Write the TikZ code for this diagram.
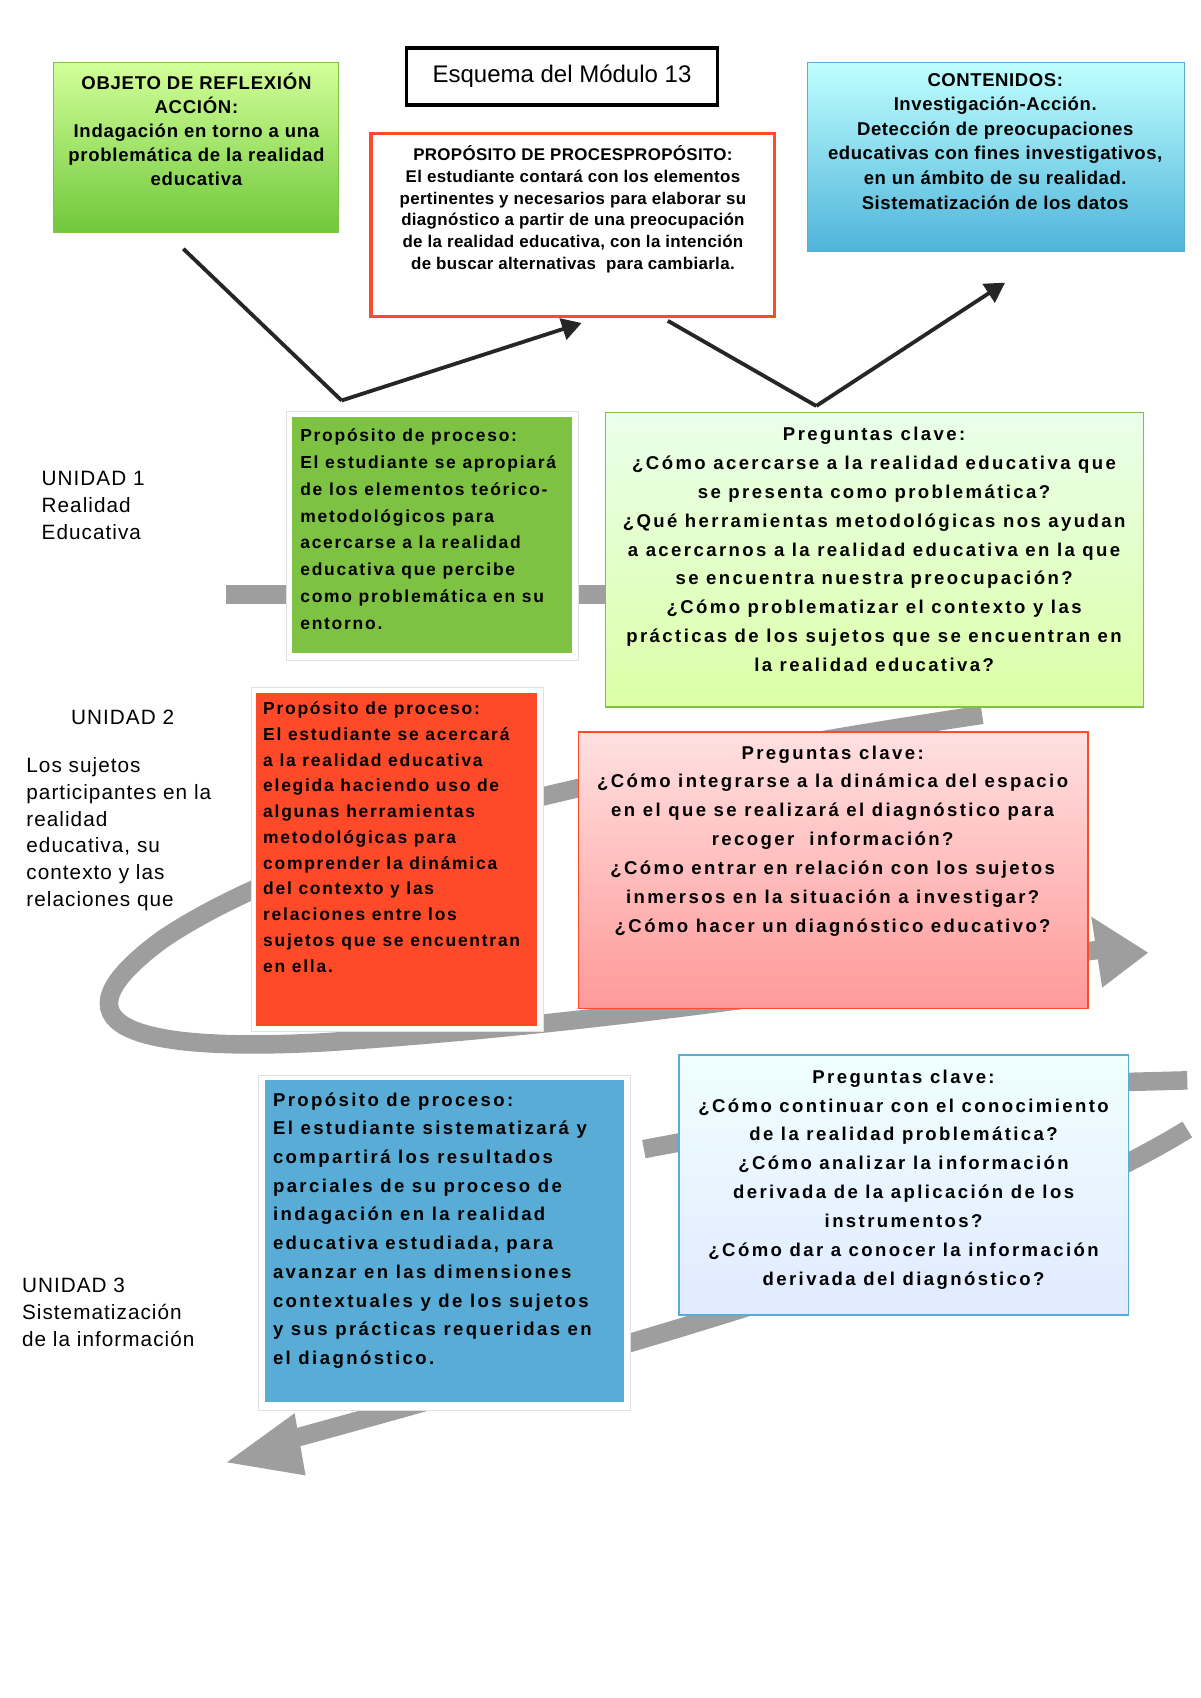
\documentclass[tikz,border=0pt]{standalone}
\usepackage{fontspec}
\setmainfont{Liberation Sans}
\usetikzlibrary{arrows.meta}
\definecolor{gband}{HTML}{9E9E9E}
\definecolor{pgreen}{HTML}{7DC242}
\definecolor{pred}{HTML}{FF4A2A}
\definecolor{pblue}{HTML}{58ACD6}
\tikzset{
  band/.style={draw=gband,line width=17pt},
  zz/.style={draw=black!85,line width=3.5pt},
  zza/.style={zz,-{Triangle[length=18pt,width=20pt]}},
  frame/.style={fill=white,draw=black!12,line width=0.6pt},
  txt/.style={font=\bfseries\fontsize{16}{24.5}\selectfont\addfontfeatures{LetterSpace=10},inner sep=0pt},
  ptxt/.style={txt,align=left,anchor=north west},
  qtxt/.style={txt,align=center,anchor=north,font=\bfseries\fontsize{17}{26.5}\selectfont\addfontfeatures{LetterSpace=13}},
  toptxt/.style={font=\bfseries\fontsize{17}{22}\selectfont\addfontfeatures{LetterSpace=4},align=center,anchor=north,inner sep=0pt},
  unit/.style={font=\fontsize{19}{24.5}\selectfont\addfontfeatures{LetterSpace=5},align=left,anchor=north west,inner sep=0pt}
}
\begin{document}
\begin{tikzpicture}[x=1pt,y=-1pt]
\useasboundingbox (0,0) rectangle (1100,1556);
% grey swirl
\draw[band] (207,545) -- (620,545);
\draw[band] (900,655) .. controls (600,700) and (300,760) .. (150,860)
  .. controls (40,940) and (120,965) .. (300,955)
  .. controls (600,935) and (850,890) .. (1010,870);
\fill[gband] (1000,840) -- (1052,873) -- (1010,905) -- cycle;
\draw[band] (1088,990) -- (900,995) -- (590,1053);
\draw[band] (1088,1035) .. controls (950,1120) and (700,1200) .. (255,1322);
\fill[gband] (270,1295) -- (208,1340) -- (280,1352) -- cycle;
% zigzag arrows
\coordinate (v1) at (313,367);
\coordinate (v2) at (748,372);
\draw[zz] (168,228) -- (v1);
\draw[zza] (v1) -- (533,296);
\draw[zz] (612,294) -- (v2);
\draw[zza] (v2) -- (921,259);
% title
\node[draw=black,line width=3.5pt,minimum width=285pt,minimum height=52pt,font=\fontsize{22}{24}\selectfont] (title) at (515,70) {Esquema del Módulo 13};
% top left green
\path[shading=axis,top color=green!25!lime!40!white,bottom color=pgreen!90!green,draw=pgreen] (49,57) rectangle (310,213);
\node[toptxt] (obj) at (180,67) {OBJETO DE REFLEXIÓN\\ACCIÓN:\\Indagación en torno a una\\problemática de la realidad\\educativa};
% red outlined
\draw[pred,line width=3pt,fill=white] (340,122) rectangle (710,290);
\node[toptxt,font=\bfseries\fontsize{15.5}{20}\selectfont\addfontfeatures{LetterSpace=2}] (prop) at (525,133) {PROPÓSITO DE PROCESPROPÓSITO:\\El estudiante contará con los elementos\\pertinentes y necesarios para elaborar su\\diagnóstico a partir de una preocupación\\de la realidad educativa, con la intención\\de buscar alternativas \ para cambiarla.};
% top right blue
\path[shading=axis,top color=cyan!25!white,bottom color=pblue!90!cyan,draw=pblue] (740,57) rectangle (1085,230);
\node[toptxt,font=\bfseries\fontsize{17}{22.5}\selectfont\addfontfeatures{LetterSpace=3}] (cont) at (912,67) {CONTENIDOS:\\Investigación-Acción.\\Detección de preocupaciones\\educativas con fines investigativos,\\en un ámbito de su realidad.\\Sistematización de los datos};
% Unidad labels
\node[unit] (u1) at (38,432) {UNIDAD 1\\Realidad\\Educativa};
\node[unit] (u2h) at (65,650) {UNIDAD 2};
\node[unit] (u2) at (24,694) {Los sujetos\\participantes en la\\realidad\\educativa, su\\contexto y las\\relaciones que};
\node[unit] (u3) at (20,1171) {UNIDAD 3\\Sistematización\\de la información};
% Unit 1 boxes
\draw[frame] (262,377) rectangle (530,605);
\fill[pgreen] (268,382) rectangle (524,598);
\node[ptxt] (p1) at (275,393) {Propósito de proceso:\\El estudiante se apropiará\\de los elementos teórico-\\metodológicos para\\acercarse a la realidad\\educativa que percibe\\como problemática en su\\entorno.};
\path[shading=axis,top color=green!8!white,bottom color=green!20!lime!35!white,draw=pgreen,line width=1.5pt] (555,378) rectangle (1048,648);
\node[qtxt] (q1) at (801,391) {Preguntas clave:\\¿Cómo acercarse a la realidad educativa que\\se presenta como problemática?\\¿Qué herramientas metodológicas nos ayudan\\a acercarnos a la realidad educativa en la que\\se encuentra nuestra preocupación?\\¿Cómo problematizar el contexto y las\\prácticas de los sujetos que se encuentran en\\la realidad educativa?};
% Unit 2 boxes
\draw[frame] (230,630) rectangle (498,945);
\fill[pred] (235,635) rectangle (492,940);
\node[ptxt,font=\bfseries\fontsize{16}{23.6}\selectfont\addfontfeatures{LetterSpace=10}] (p2) at (241,643) {Propósito de proceso:\\El estudiante se acercará\\a la realidad educativa\\elegida haciendo uso de\\algunas herramientas\\metodológicas para\\comprender la dinámica\\del contexto y las\\relaciones entre los\\sujetos que se encuentran\\en ella.};
\path[shading=axis,top color=red!12!white,bottom color=red!40!white,draw=pred,line width=1.5pt] (530,671) rectangle (997,924);
\node[qtxt] (q2) at (763,683) {Preguntas clave:\\¿Cómo integrarse a la dinámica del espacio\\en el que se realizará el diagnóstico para\\recoger \ información?\\¿Cómo entrar en relación con los sujetos\\inmersos en la situación a investigar?\\¿Cómo hacer un diagnóstico educativo?};
% Unit 3 boxes
\draw[frame] (237,985) rectangle (578,1292);
\fill[pblue] (243,990) rectangle (572,1285);
\node[ptxt,font=\bfseries\fontsize{17}{26.3}\selectfont\addfontfeatures{LetterSpace=13}] (p3) at (250,1001) {Propósito de proceso:\\El estudiante sistematizará y\\compartirá los resultados\\parciales de su proceso de\\indagación en la realidad\\educativa estudiada, para\\avanzar en las dimensiones\\contextuales y de los sujetos\\y sus prácticas requeridas en\\el diagnóstico.};
\path[shading=axis,top color=cyan!6!white,bottom color=cyan!30!blue!12!white,draw=pblue,line width=1.5pt] (622,967) rectangle (1034,1205);
\node[qtxt] (q3) at (828,980) {Preguntas clave:\\¿Cómo continuar con el conocimiento\\de la realidad problemática?\\¿Cómo analizar la información\\derivada de la aplicación de los\\instrumentos?\\¿Cómo dar a conocer la información\\derivada del diagnóstico?};
\end{tikzpicture}
\end{document}
